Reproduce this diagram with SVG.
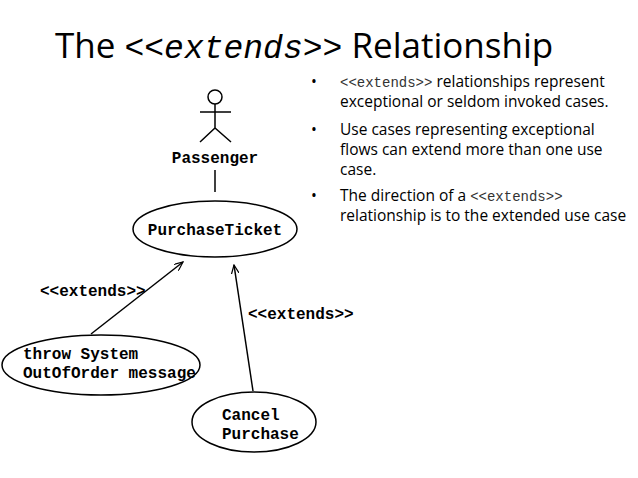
<svg xmlns="http://www.w3.org/2000/svg" width="638" height="478" viewBox="0 0 638 478">
<defs>
<style>
.m{font-family:"Liberation Mono",monospace;font-weight:bold;font-size:16px;fill:#000}
.s{font-family:"Open Sans","Liberation Sans",sans-serif;font-size:15.5px;fill:#000}
.c{font-family:"Liberation Mono",monospace;font-size:14px;fill:#333}
.e{fill:#fff;stroke:#000;stroke-width:1.5}
.l{stroke:#000;stroke-width:1.5;fill:none}
</style>
<marker id="a" markerWidth="10" markerHeight="8" refX="9" refY="4" orient="auto" markerUnits="userSpaceOnUse"><path d="M0,0 L9,4 L0,8" fill="none" stroke="#000" stroke-width="1.2"/></marker>
</defs>
<rect width="638" height="478" fill="#fff"/>
<text x="55" y="58" font-family="Open Sans,Liberation Sans,sans-serif" font-size="35">The <tspan font-family="Liberation Mono,monospace" font-style="italic" font-size="33">&lt;&lt;extends&gt;&gt;</tspan>   Relationship</text>
<g id="bullets">
<text x="311" y="87" class="s">•</text>
<text x="340" y="87" class="s"><tspan class="c">&lt;&lt;extends&gt;&gt;</tspan> relationships represent</text>
<text x="340" y="107" class="s">exceptional or seldom invoked cases.</text>
<text x="311" y="135" class="s">•</text>
<text x="340" y="135" class="s">Use cases representing exceptional</text>
<text x="340" y="155" class="s">flows can extend more than one use</text>
<text x="340" y="175" class="s">case.</text>
<text x="311" y="201" class="s">•</text>
<text x="340" y="201" class="s">The direction of a <tspan class="c">&lt;&lt;extends&gt;&gt;</tspan></text>
<text x="340" y="221" class="s">relationship is to the extended use case</text>
</g>
<g id="passenger">
<circle cx="215" cy="97" r="7" class="l"/>
<path d="M215,104 V128 M200,112 H231 M200,142 L215,128 L231,142" class="l"/>
<text x="215" y="163" class="m" text-anchor="middle">Passenger</text>
</g>
<g id="purchaseTicket">
<ellipse cx="215" cy="229" rx="82" ry="28" class="e"/>
<text x="215" y="235" class="m" text-anchor="middle">PurchaseTicket</text>
</g>
<g id="throw">
<ellipse cx="101" cy="365" rx="99" ry="30" class="e"/>
<text x="23" y="359" class="m">throw System</text>
<text x="23" y="378" class="m">OutOfOrder message</text>
</g>
<g id="cancel">
<ellipse cx="254" cy="422" rx="62" ry="30" class="e"/>
<text x="222" y="420" class="m">Cancel</text>
<text x="222" y="439" class="m">Purchase</text>
</g>
<g id="connectors">
<line x1="215" y1="170" x2="215" y2="192" class="l"/>
<line x1="91" y1="334" x2="183" y2="262" class="l" marker-end="url(#a)"/>
<line x1="253" y1="391" x2="234" y2="265" class="l" marker-end="url(#a)"/>
<text x="40" y="296" class="m" font-size="13">&lt;&lt;extends&gt;&gt;</text>
<text x="248" y="319" class="m" font-size="13">&lt;&lt;extends&gt;&gt;</text>
</g>
</svg>
